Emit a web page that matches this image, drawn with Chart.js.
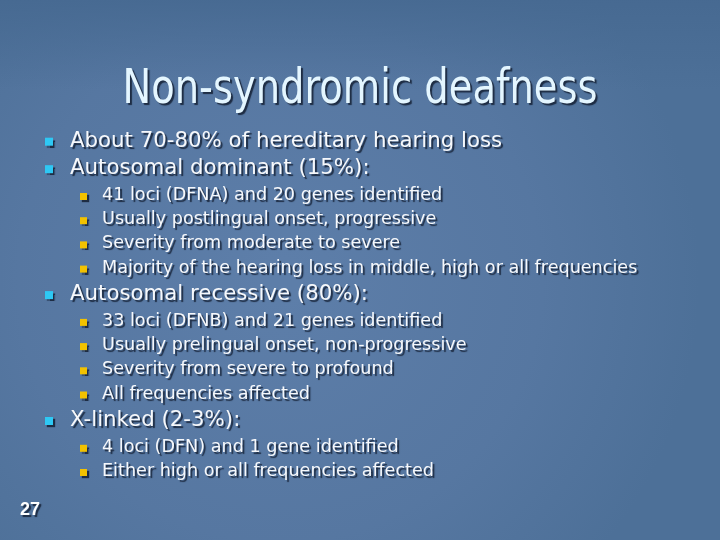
<!DOCTYPE html>
<html>
<head>
<meta charset="utf-8">
<script src="https://cdn.jsdelivr.net/npm/chart.js@4.4.0/dist/chart.umd.min.js"></script>
<style>
  html, body { margin: 0; padding: 0; background: #4e7199; }
  #wrap { width: 720px; height: 540px; }
</style>
</head>
<body>
<div id="wrap"><canvas id="slide" width="720" height="540"></canvas></div>
<script>
// Slide content
const slideTitle = 'Non-syndromic deafness';
const bulletLevels = [1, 1, 2, 2, 2, 2, 1, 2, 2, 2, 2, 1, 2, 2];
const bulletTexts = [
    'About 70-80% of hereditary hearing loss',
    'Autosomal dominant (15%):',
    '41 loci (DFNA) and 20 genes identified',
    'Usually postlingual onset, progressive',
    'Severity from moderate to severe',
    'Majority of the hearing loss in middle, high or all frequencies',
    'Autosomal recessive (80%):',
    '33 loci (DFNB) and 21 genes identified',
    'Usually prelingual onset, non-progressive',
    'Severity from severe to profound',
    'All frequencies affected',
    'X-linked (2-3%):',
    '4 loci (DFN) and 1 gene identified',
    'Either high or all frequencies affected'
];
const pageNumber = '27';

const BODY_FONT = '"DejaVu Sans", Tahoma, Verdana, sans-serif';
const TITLE_FONT = '"DejaVu Sans Condensed", "DejaVu Sans", Tahoma, sans-serif';

// Style per bullet level
const levelStyle = {
    1: { bulletX: 45, bulletSize: 8, bulletColor: '#2ec8f4', textX: 70, size: 21.3 },
    2: { bulletX: 80, bulletSize: 7, bulletColor: '#f2c200', textX: 102, size: 17.6 }
};

function withShadow(ctx, fn) {
    ctx.save();
    ctx.shadowColor = 'rgba(20, 32, 52, 0.85)';
    ctx.shadowOffsetX = 2;
    ctx.shadowOffsetY = 2;
    ctx.shadowBlur = 1;
    fn();
    ctx.restore();
}

// Background + text drawn around the (empty) chart
const slidePlugin = {
    id: 'slidePlugin',
    beforeDraw(chart) {
        const ctx = chart.ctx;
        const w = chart.width, h = chart.height;
        ctx.save();
        ctx.fillStyle = '#4d7098';
        ctx.fillRect(0, 0, w, h);
        // lighter textured middle
        const r = ctx.createRadialGradient(280, 280, 20, 280, 280, 420);
        r.addColorStop(0, 'rgba(93,126,169,1)');
        r.addColorStop(0.6, 'rgba(90,122,165,0.7)');
        r.addColorStop(1, 'rgba(90,122,165,0)');
        ctx.fillStyle = r;
        ctx.fillRect(0, 0, w, h);
        // darker top band
        const t = ctx.createLinearGradient(0, 0, 0, 90);
        t.addColorStop(0, 'rgba(70,105,145,0.9)');
        t.addColorStop(1, 'rgba(70,105,145,0)');
        ctx.fillStyle = t;
        ctx.fillRect(0, 0, w, 90);
        ctx.restore();
    },
    afterDraw(chart) {
        const ctx = chart.ctx;
        ctx.save();
        ctx.textBaseline = 'alphabetic';

        // Title (narrowed to Tahoma-like proportions)
        withShadow(ctx, () => {
            ctx.font = '48px ' + TITLE_FONT;
            ctx.fillStyle = '#e4f6ff';
            ctx.textAlign = 'center';
            ctx.translate(360, 103);
            ctx.scale(0.89, 1);
            ctx.fillText(slideTitle, 0, 0);
        });

        // Bullets
        let y = 146.7;
        bulletTexts.forEach((text, i) => {
            const lvl = bulletLevels[i];
            if (i > 0) {
                const prev = bulletLevels[i - 1];
                y += lvl === 1 ? 27.5 : (prev === 1 ? 25.8 : 24.2);
            }
            const st = levelStyle[lvl];
            withShadow(ctx, () => {
                ctx.fillStyle = st.bulletColor;
                const top = lvl === 1 ? y - 9 : y - 7;
                ctx.fillRect(st.bulletX, top, st.bulletSize, st.bulletSize);
            });
            withShadow(ctx, () => {
                ctx.font = st.size + 'px ' + BODY_FONT;
                ctx.fillStyle = '#f6f8fb';
                ctx.textAlign = 'left';
                ctx.fillText(text, st.textX, y);
            });
        });

        // Page number
        withShadow(ctx, () => {
            ctx.font = 'bold 18px "Liberation Sans", Arial, sans-serif';
            ctx.fillStyle = '#ffffff';
            ctx.textAlign = 'left';
            ctx.fillText(pageNumber, 20, 515);
        });
        ctx.restore();
    }
};

new Chart(document.getElementById('slide').getContext('2d'), {
    type: 'bar',
    data: {
        labels: bulletTexts,
        datasets: [{ data: [], backgroundColor: 'transparent' }]
    },
    options: {
        responsive: false,
        animation: false,
        layout: { padding: 0 },
        plugins: {
            legend: { display: false },
            title: { display: false },
            tooltip: { enabled: false }
        },
        scales: {
            x: { display: false },
            y: { display: false }
        }
    },
    plugins: [slidePlugin]
});
</script>
</body>
</html>
